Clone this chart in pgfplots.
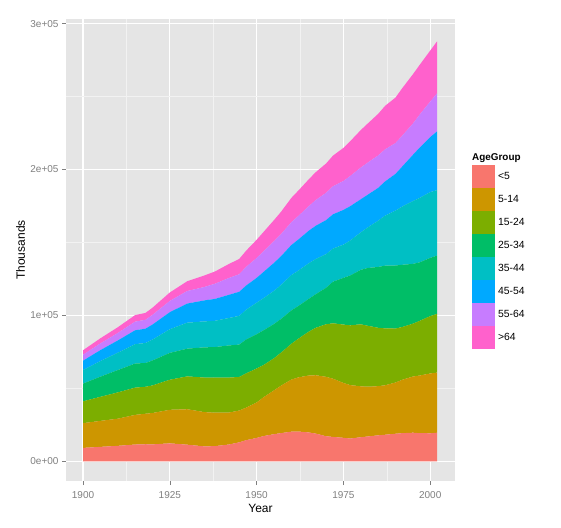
\documentclass[border=0pt]{standalone}
\usepackage{fontspec}
\setmainfont{Liberation Sans}
\usepackage{pgfplots}
\usepackage{pgfplotstable}
\pgfplotsset{compat=1.18}
\definecolor{bggrey}{HTML}{E5E5E5}
\definecolor{minorgrey}{HTML}{F2F2F2}
\definecolor{tickgrey}{HTML}{7F7F7F}
\definecolor{cA}{HTML}{F8766D}
\definecolor{cB}{HTML}{CD9600}
\definecolor{cC}{HTML}{7CAE00}
\definecolor{cD}{HTML}{00BE67}
\definecolor{cE}{HTML}{00BFC4}
\definecolor{cF}{HTML}{00A9FF}
\definecolor{cG}{HTML}{C77CFF}
\definecolor{cH}{HTML}{FF61CC}
\pgfplotstableread{
Year a b c d e f g h
1900 9181 16966 14951 12161 9273 6437 4026 3099
1905 9900 17800 16500 13800 10700 7500 4600 3500
1910 10600 18600 18000 15300 11900 8400 5100 3950
1915 11500 20300 18700 16500 13300 9500 5900 4500
1918 11700 20900 18500 16300 13700 9800 6100 4700
1920 11600 21500 18900 17100 14300 10300 6600 4950
1925 12300 23000 20600 18400 16200 11700 7700 5800
1930 11400 24300 22500 19000 17800 13100 8600 6700
1935 10200 23500 23700 20700 17800 14400 9200 7900
1938 10400 22900 24000 21000 18000 15000 10400 8400
1942 11500 21900 24000 22000 18800 15900 11500 9600
1945 13000 21800 23000 22200 19700 16500 12000 10500
1947 14500 22300 23500 23200 20400 16600 12800 11100
1950 16000 24300 23300 23500 21600 17000 13600 12500
1952 17300 26600 22100 23800 22000 18000 14100 13300
1955 18600 30000 22000 23500 22700 19200 14800 14500
1957 19300 32500 22600 23100 23300 19700 15100 15300
1960 20300 35700 24500 22900 24200 20600 15600 16700
1962 20400 37100 26500 22400 24300 21300 16100 17400
1965 19800 39000 30000 22500 24400 22300 16800 18400
1967 19000 40000 32500 23000 24100 22800 17600 19100
1970 17200 40700 36000 25000 23100 23300 18700 20100
1972 16700 39900 38000 28500 22700 23500 19200 21000
1975 16100 37600 40000 32000 22800 23800 19800 22700
1977 15600 36600 41000 34200 24000 23500 20700 23900
1980 16500 34900 42500 37300 25700 22700 21700 25700
1982 17000 34100 41800 39600 27800 22400 22000 26800
1985 17800 33700 40000 41700 31700 22500 22200 28500
1987 18200 33900 39000 43000 34300 23400 22000 29800
1990 18900 35100 37000 43200 37600 25200 21100 31200
1992 19300 36600 36200 42600 40000 27500 21100 32600
1995 19600 38500 36200 41000 43000 31700 21400 33800
1997 19300 39500 37500 40100 44200 34500 22600 34100
2000 19200 41000 39300 39900 45100 37700 24300 35000
2002 19609 41188 40256 39925 44910 40299 26100 35600
}\pop
\begin{document}
\begin{tikzpicture}
\useasboundingbox (0,0) rectangle (561pt,527pt);
\begin{axis}[
  at={(66pt,46pt)}, anchor=south west,
  scale only axis, width=389pt, height=462pt,
  xmin=1895.1, xmax=2007.14, ymin=-13500, ymax=303150,
  stack plots=y, clip=false,
  axis background/.style={fill=bggrey},
  axis line style={draw=none},
  tick pos=left, tick align=outside,
  major tick length=4pt, minor tick length=0pt,
  tick style={draw=tickgrey, line width=0.6pt},
  xtick={1900,1925,1950,1975,2000},
  xticklabels={1900,1925,1950,1975,2000},
  minor xtick={1912.5,1937.5,1962.5,1987.5},
  ytick={0,100000,200000,300000},
  yticklabels={0e+00,1e+05,2e+05,3e+05},
  minor ytick={50000,150000,250000},
  grid=both,
  major grid style={draw=white, line width=1.1pt},
  minor grid style={draw=minorgrey, line width=0.55pt},
  ticklabel style={font=\fontsize{10}{12}\selectfont, text=tickgrey},
  xticklabel style={yshift=-2.5pt},
  scaled y ticks=false,
  every axis x label/.style={at={(axis description cs:0.5,-0.0584)}, anchor=center},
  every axis y label/.style={at={(axis description cs:-0.1165,0.5)}, rotate=90, anchor=center},
  label style={font=\fontsize{12}{14}\selectfont},
  xlabel={Year}, ylabel={Thousands},
  legend style={at={(1.0437,0.684)}, anchor=north west, draw=none, fill=none,
    inner sep=0pt, outer sep=0pt, row sep=0pt,
    font=\fontsize{10.4}{12}\selectfont,
    nodes={inner sep=0pt, outer sep=0pt},
    /tikz/every odd column/.append style={column sep=3pt}},
  legend cell align=left,
  legend image code/.code={\fill[#1, draw=none] (0pt,-11.5pt) rectangle (23pt,11.5pt);},
]
\addplot[fill=cA, draw=none, mark=none] table[x=Year, y=a] {\pop} \closedcycle;
\addlegendentry{<5}
\addplot[fill=cB, draw=none, mark=none] table[x=Year, y=b] {\pop} \closedcycle;
\addlegendentry{5-14}
\addplot[fill=cC, draw=none, mark=none] table[x=Year, y=c] {\pop} \closedcycle;
\addlegendentry{15-24}
\addplot[fill=cD, draw=none, mark=none] table[x=Year, y=d] {\pop} \closedcycle;
\addlegendentry{25-34}
\addplot[fill=cE, draw=none, mark=none] table[x=Year, y=e] {\pop} \closedcycle;
\addlegendentry{35-44}
\addplot[fill=cF, draw=none, mark=none] table[x=Year, y=f] {\pop} \closedcycle;
\addlegendentry{45-54}
\addplot[fill=cG, draw=none, mark=none] table[x=Year, y=g] {\pop} \closedcycle;
\addlegendentry{55-64}
\addplot[fill=cH, draw=none, mark=none] table[x=Year, y=h] {\pop} \closedcycle;
\addlegendentry{>64}
\node[anchor=base west, inner sep=0pt, font=\bfseries\fontsize{9.9}{11}\selectfont] at (rel axis cs:1.0437,0.6933) {AgeGroup};
\end{axis}
\end{tikzpicture}
\end{document}
